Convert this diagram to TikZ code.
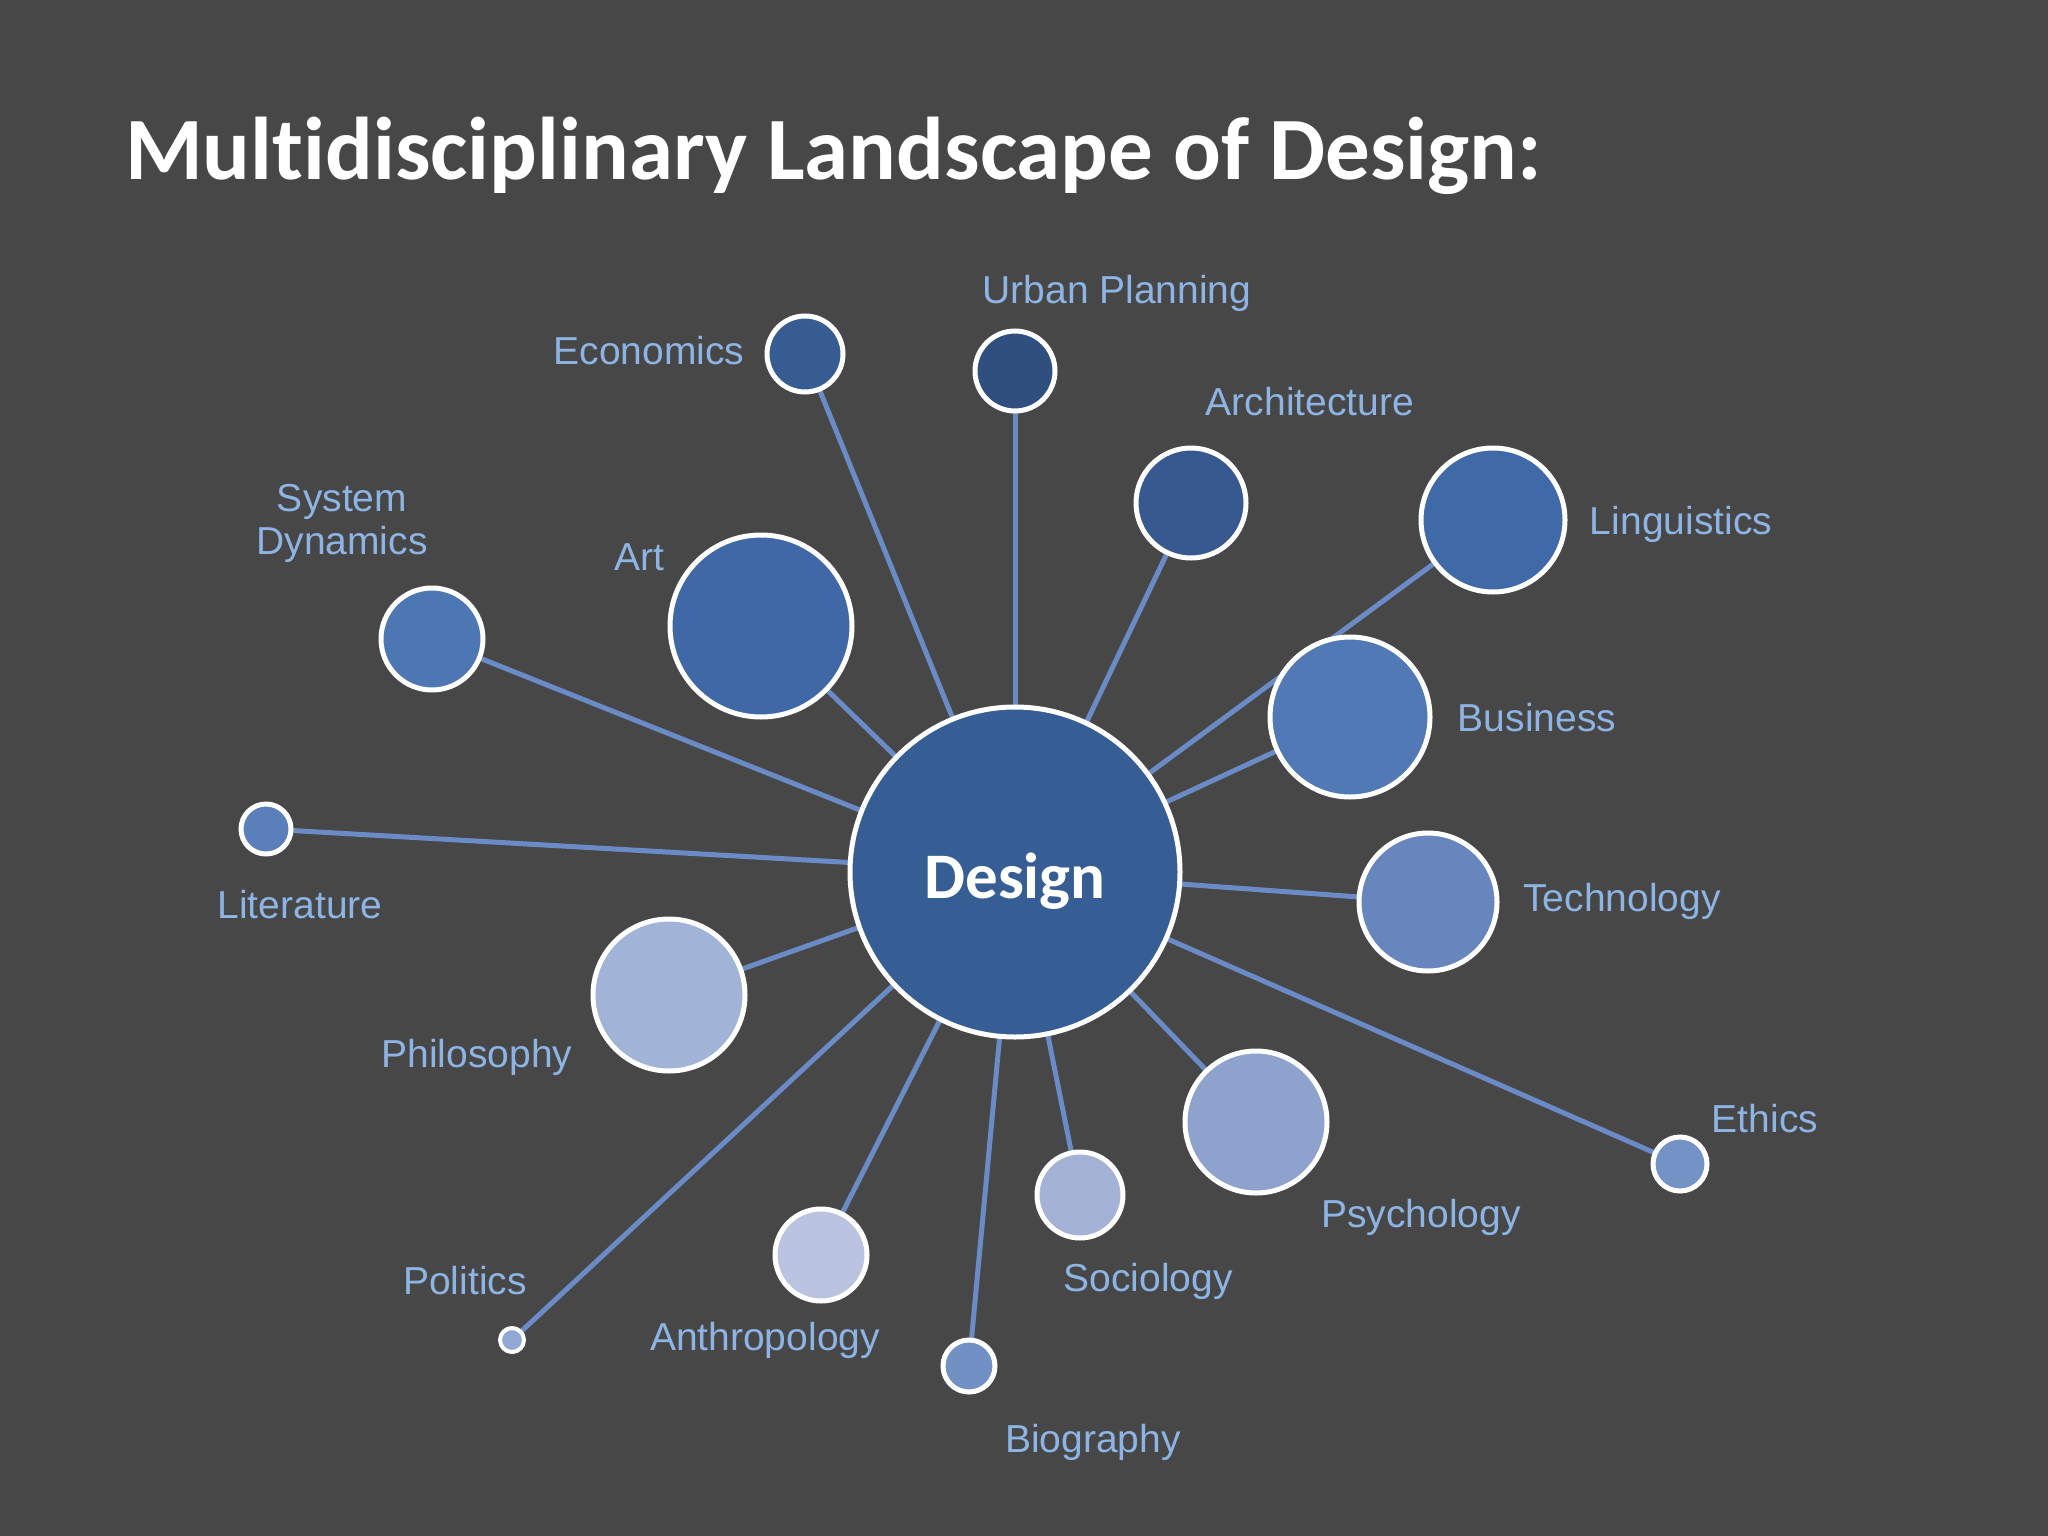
\documentclass[tikz,border=0pt]{standalone}
\usepackage{fontspec}
\setmainfont{Liberation Sans}
\newfontfamily\titlefont[Ligatures=NoCommon]{Carlito}
\definecolor{bgc}{HTML}{474748}
\definecolor{edgec}{HTML}{6A8BC6}
\definecolor{labc}{HTML}{8EB4E3}
\definecolor{designc}{HTML}{365E95}
\definecolor{ceconc}{HTML}{375C92}
\definecolor{curbanc}{HTML}{2F4F7F}
\definecolor{carchc}{HTML}{37598F}
\definecolor{clingc}{HTML}{4069A8}
\definecolor{cbusc}{HTML}{5079B5}
\definecolor{ctechc}{HTML}{6686BD}
\definecolor{cethicsc}{HTML}{7392C6}
\definecolor{cpsychc}{HTML}{8EA2CE}
\definecolor{csocc}{HTML}{A4B2D6}
\definecolor{cbioc}{HTML}{7190C3}
\definecolor{canthc}{HTML}{BAC4E0}
\definecolor{cpolc}{HTML}{92A8D4}
\definecolor{cphilc}{HTML}{A1B3D6}
\definecolor{clitc}{HTML}{5B7FBA}
\definecolor{csysdc}{HTML}{4D77B3}
\definecolor{cartc}{HTML}{4068A7}
\pgfdeclarelayer{bglayer}
\pgfdeclarelayer{edgelayer}
\pgfsetlayers{bglayer,edgelayer,main}
\tikzset{
  ball/.style={circle, draw=white, line width=5pt, inner sep=0pt},
  labbase/.style={text=labc, font=\fontsize{39}{43}\selectfont, inner sep=0pt, align=center},
  lab/.style={labbase, text height=28pt, text depth=0pt},
  conn/.style={draw=edgec, line width=5pt},
}
\begin{document}
\begin{tikzpicture}[x=1pt,y=-1pt]
\begin{pgfonlayer}{bglayer}
\fill[bgc] (0,0) rectangle (2048,1536);
\end{pgfonlayer}
\useasboundingbox (0,0) rectangle (2048,1536);

\node[anchor=base west, inner sep=0pt, text=white, font=\titlefont\bfseries\fontsize{89}{100}\selectfont] (title) at (125,179) {Multidisciplinary Landscape of Design:};

\node[ball, minimum size=330pt, fill=designc, text=white, font=\titlefont\bfseries\fontsize{65}{70}\selectfont, text height=52pt, text depth=0pt] (design) at (1015,872) {Design};

\node[ball, minimum size=76pt, fill=ceconc] (econ) at (805,354) {};
\node[ball, minimum size=80pt, fill=curbanc] (urban) at (1015,371) {};
\node[ball, minimum size=110pt, fill=carchc] (arch) at (1191,503) {};
\node[ball, minimum size=144pt, fill=clingc] (ling) at (1493,520) {};
\node[ball, minimum size=160pt, fill=cbusc] (bus) at (1350,717) {};
\node[ball, minimum size=138pt, fill=ctechc] (tech) at (1428,902) {};
\node[ball, minimum size=54pt, fill=cethicsc] (ethics) at (1680,1164) {};
\node[ball, minimum size=142pt, fill=cpsychc] (psych) at (1256,1122) {};
\node[ball, minimum size=86pt, fill=csocc] (soc) at (1080,1195) {};
\node[ball, minimum size=52pt, fill=cbioc] (bio) at (969,1366) {};
\node[ball, minimum size=92pt, fill=canthc] (anth) at (821,1255) {};
\node[ball, minimum size=24pt, line width=4pt, fill=cpolc] (pol) at (512,1340) {};
\node[ball, minimum size=152pt, fill=cphilc] (phil) at (669,995) {};
\node[ball, minimum size=50pt, fill=clitc] (lit) at (266,829) {};
\node[ball, minimum size=102pt, fill=csysdc] (sysd) at (432,639) {};
\node[ball, minimum size=182pt, fill=cartc] (art) at (761,626) {};

\begin{pgfonlayer}{edgelayer}
\foreach \n in {econ,urban,arch,ling,bus,tech,ethics,psych,soc,bio,anth,pol,phil,lit,sysd,art}
  \draw[conn] (design.center) -- (\n.center);
\end{pgfonlayer}

\node[lab] (lecon) at (649,350) {Economics};
\node[lab] (lurban) at (1117,289) {Urban Planning};
\node[lab] (larch) at (1310,401) {Architecture};
\node[lab] (lling) at (1681,520) {Linguistics};
\node[lab] (lbus) at (1537,717) {Business};
\node[lab] (ltech) at (1622,897) {Technology};
\node[lab] (lethics) at (1765,1118) {Ethics};
\node[lab] (lpsych) at (1421,1213) {Psychology};
\node[lab] (lsoc) at (1148,1277) {Sociology};
\node[lab] (lbio) at (1093,1438) {Biography};
\node[lab] (lanth) at (765,1336) {Anthropology};
\node[lab] (lpol) at (465,1280) {Politics};
\node[lab] (lphil) at (477,1053) {Philosophy};
\node[lab] (llit) at (300,904) {Literature};
\node[labbase] (lsysd) at (342,523) {System\\Dynamics};
\node[lab] (lart) at (639,556) {Art};
\end{tikzpicture}
\end{document}
